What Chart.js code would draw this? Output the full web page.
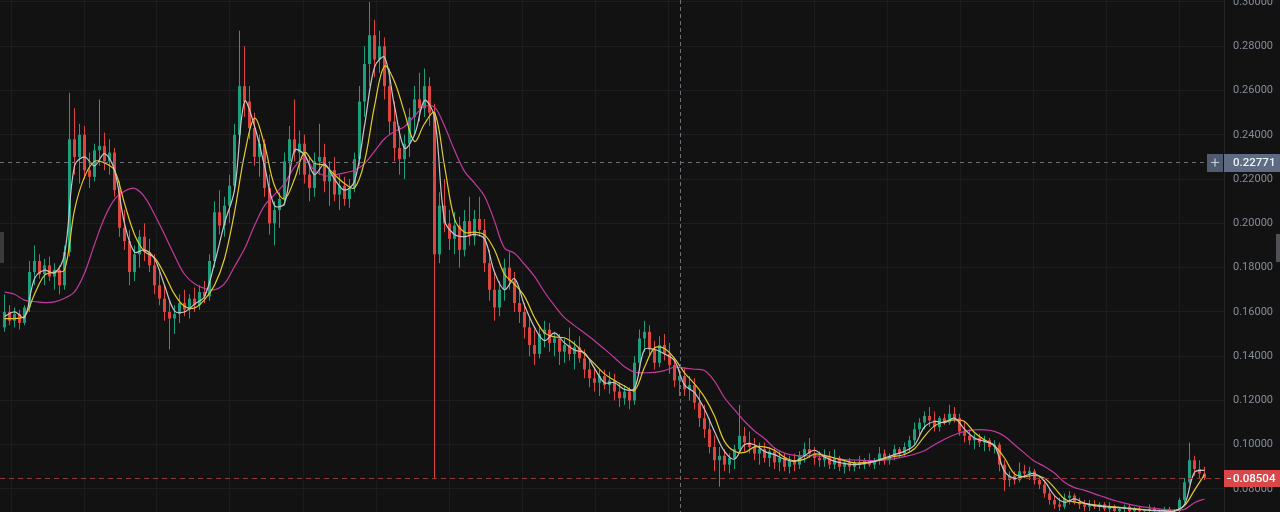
<!DOCTYPE html>
<html><head><meta charset="utf-8">
<script src="https://cdn.jsdelivr.net/npm/chart.js@4.4.0/dist/chart.umd.min.js"></script>
<style>html,body{margin:0;padding:0;background:#121212;overflow:hidden}canvas{display:block}</style>
</head><body>
<canvas id="c" width="1280" height="512"></canvas>
<script>
// ---- candle data (one entry per period) ----
const opens=[
0.153,0.160,0.156,0.159,0.155,0.162,0.178,0.183,0.177,0.181,0.176,0.179,0.172,
0.187,0.238,0.230,0.240,0.224,0.221,0.233,0.235,0.228,0.232,
0.215,0.198,0.192,0.178,0.186,0.194,0.187,0.181,0.172,0.166,0.160,0.157,
0.159,0.164,0.161,0.166,0.163,0.169,0.167,0.183,0.205,0.199,0.208,0.217,0.240,0.262,
0.255,0.243,0.230,0.236,0.216,0.200,0.206,0.211,0.228,0.238,0.232,0.236,0.222,0.216,0.228,0.230,0.219,0.224,0.213,0.217,0.211,
0.216,0.229,0.255,0.272,0.285,0.274,0.280,0.262,0.246,0.234,0.229,0.236,0.248,0.256,0.252,0.262,0.250,
0.186,0.208,0.200,0.193,0.199,0.188,0.201,0.194,0.202,0.197,0.182,0.170,0.162,0.170,0.180,0.174,0.164,0.160,0.153,0.145,0.141,0.150,0.152,0.146,0.148,0.142,0.145,0.141,0.144,0.139,0.134,0.130,0.128,0.131,0.127,0.129,0.124,0.121,0.124,
0.120,0.137,0.148,0.151,0.143,0.137,0.145,0.141,0.136,0.129,0.131,0.125,0.127,0.119,0.112,0.107,0.099,0.093,0.095,0.091,0.094,0.098,0.104,0.101,0.099,0.096,0.098,0.094,0.097,0.092,0.094,0.090,0.093,0.091,0.095,0.098,0.096,0.094,0.093,
0.095,0.091,0.094,0.090,0.092,0.090,0.092,0.091,0.093,0.091,0.093,0.096,0.093,0.095,0.098,0.096,0.099,0.102,0.107,0.110,0.113,0.111,0.108,0.112,0.110,0.114,0.112,0.106,0.104,0.102,0.103,0.101,0.102,0.099,0.100,0.091,
0.084,0.086,0.084,0.088,0.087,0.088,0.084,0.082,0.078,0.075,0.073,0.072,0.076,0.077,0.074,0.073,0.072,0.073,0.072,0.073,0.071,0.072,0.070,0.071,0.072,0.070,0.071,0.070,0.070,0.071,0.070,0.070,0.071,0.070,0.070,0.075,0.083,0.093,0.089,0.087
];
const closes=[
0.160,0.156,0.159,0.155,0.162,0.178,0.183,0.177,0.181,0.176,0.179,0.172,0.187,
0.238,0.230,0.240,0.224,0.221,0.233,0.235,0.228,0.232,0.215,
0.198,0.192,0.178,0.186,0.194,0.187,0.181,0.172,0.166,0.160,0.157,0.159,
0.164,0.161,0.166,0.163,0.169,0.167,0.183,0.205,0.199,0.208,0.217,0.240,0.262,0.255,
0.243,0.230,0.236,0.216,0.200,0.206,0.211,0.228,0.238,0.232,0.236,0.222,0.216,0.228,0.230,0.219,0.224,0.213,0.217,0.211,0.216,
0.229,0.255,0.272,0.285,0.274,0.280,0.262,0.246,0.234,0.229,0.236,0.248,0.256,0.252,0.262,0.250,0.186,
0.208,0.200,0.193,0.199,0.188,0.201,0.194,0.202,0.197,0.182,0.170,0.162,0.170,0.180,0.174,0.164,0.160,0.153,0.145,0.141,0.150,0.152,0.146,0.148,0.142,0.145,0.141,0.144,0.139,0.134,0.130,0.128,0.131,0.127,0.129,0.124,0.121,0.124,0.120,
0.137,0.148,0.151,0.143,0.137,0.145,0.141,0.136,0.129,0.131,0.125,0.127,0.119,0.112,0.107,0.099,0.093,0.095,0.091,0.094,0.098,0.104,0.101,0.099,0.096,0.098,0.094,0.097,0.092,0.094,0.090,0.093,0.091,0.095,0.098,0.096,0.094,0.093,0.095,
0.091,0.094,0.090,0.092,0.090,0.092,0.091,0.093,0.091,0.093,0.096,0.093,0.095,0.098,0.096,0.099,0.102,0.107,0.110,0.113,0.111,0.108,0.112,0.110,0.114,0.112,0.106,0.104,0.102,0.103,0.101,0.102,0.099,0.100,0.091,0.084,
0.086,0.084,0.088,0.087,0.088,0.084,0.082,0.078,0.075,0.073,0.072,0.076,0.077,0.074,0.073,0.072,0.073,0.072,0.073,0.071,0.072,0.070,0.071,0.072,0.070,0.071,0.070,0.070,0.071,0.070,0.070,0.071,0.070,0.070,0.075,0.083,0.093,0.089,0.087,0.08504
];
const highs=[
0.168,0.163,0.162,0.161,0.163,0.183,0.190,0.186,0.184,0.185,0.182,0.181,0.190,
0.259,0.252,0.245,0.244,0.232,0.236,0.256,0.241,0.238,0.234,
0.219,0.206,0.197,0.190,0.197,0.200,0.193,0.186,0.178,0.172,0.165,0.163,
0.168,0.170,0.168,0.171,0.172,0.174,0.186,0.210,0.215,0.212,0.222,0.245,0.287,0.280,
0.262,0.250,0.240,0.238,0.222,0.210,0.214,0.232,0.244,0.256,0.242,0.240,0.230,0.232,0.245,0.236,0.228,0.230,0.222,0.221,0.220,
0.232,0.262,0.280,0.300,0.292,0.287,0.284,0.270,0.255,0.244,0.240,0.252,0.262,0.268,0.270,0.266,0.254,
0.214,0.220,0.206,0.205,0.203,0.206,0.212,0.206,0.212,0.202,0.188,0.178,0.174,0.184,0.187,0.178,0.170,0.164,0.158,0.152,0.154,0.156,0.155,0.151,0.150,0.148,0.153,0.147,0.149,0.143,0.138,0.135,0.134,0.134,0.133,0.132,0.128,0.127,0.126,
0.140,0.152,0.156,0.154,0.147,0.149,0.150,0.146,0.139,0.134,0.135,0.131,0.130,0.124,0.118,0.112,0.104,0.099,0.098,0.096,0.100,0.118,0.108,0.106,0.103,0.101,0.101,0.099,0.099,0.097,0.096,0.095,0.096,0.097,0.101,0.103,0.099,0.097,0.098,
0.097,0.098,0.095,0.093,0.094,0.093,0.095,0.094,0.096,0.094,0.099,0.098,0.096,0.100,0.099,0.101,0.104,0.110,0.112,0.115,0.117,0.115,0.113,0.114,0.118,0.117,0.114,0.110,0.107,0.105,0.105,0.104,0.103,0.102,0.101,0.093,
0.088,0.088,0.092,0.091,0.090,0.089,0.086,0.084,0.080,0.077,0.076,0.078,0.079,0.078,0.076,0.075,0.075,0.075,0.074,0.074,0.074,0.073,0.072,0.073,0.073,0.072,0.072,0.071,0.073,0.072,0.071,0.072,0.072,0.071,0.076,0.085,0.101,0.095,0.093,0.090
];
const lows=[
0.151,0.154,0.153,0.152,0.154,0.160,0.172,0.175,0.172,0.174,0.170,0.168,0.170,
0.185,0.222,0.218,0.220,0.216,0.219,0.226,0.224,0.222,0.212,
0.194,0.188,0.172,0.174,0.180,0.183,0.178,0.168,0.163,0.156,0.143,0.150,
0.155,0.158,0.157,0.160,0.161,0.164,0.165,0.180,0.195,0.194,0.200,0.214,0.236,0.248,
0.238,0.226,0.221,0.212,0.195,0.190,0.198,0.208,0.222,0.228,0.222,0.218,0.210,0.212,0.222,0.214,0.208,0.210,0.206,0.208,0.207,
0.214,0.226,0.248,0.262,0.266,0.268,0.256,0.240,0.228,0.222,0.220,0.230,0.240,0.246,0.248,0.244,0.085,
0.182,0.196,0.188,0.186,0.180,0.185,0.190,0.190,0.194,0.178,0.165,0.156,0.158,0.165,0.170,0.160,0.155,0.148,0.140,0.136,0.139,0.144,0.142,0.140,0.136,0.137,0.138,0.134,0.137,0.130,0.126,0.124,0.122,0.125,0.123,0.120,0.117,0.118,0.116,
0.118,0.134,0.142,0.140,0.134,0.135,0.138,0.132,0.126,0.122,0.122,0.120,0.116,0.108,0.103,0.096,0.088,0.081,0.088,0.087,0.089,0.096,0.097,0.096,0.093,0.091,0.092,0.090,0.089,0.088,0.088,0.087,0.088,0.089,0.092,0.094,0.091,0.090,0.090,
0.089,0.089,0.088,0.087,0.088,0.088,0.089,0.089,0.090,0.089,0.091,0.091,0.091,0.093,0.094,0.095,0.097,0.100,0.104,0.107,0.108,0.106,0.106,0.109,0.109,0.110,0.104,0.101,0.100,0.098,0.099,0.097,0.097,0.096,0.088,0.079,
0.081,0.082,0.083,0.085,0.084,0.082,0.080,0.076,0.073,0.071,0.070,0.071,0.073,0.073,0.071,0.070,0.070,0.071,0.070,0.070,0.069,0.069,0.069,0.069,0.069,0.069,0.069,0.069,0.069,0.069,0.069,0.069,0.069,0.069,0.069,0.074,0.082,0.086,0.085,0.084
];
// ---- moving averages, one value every maStep periods ----
const maStep=2;
const maFast=[
0.158,0.160,0.1575,0.175,0.1788,0.1776,0.186,0.226,0.230,0.226,
0.2315,0.224,0.200,0.187,0.188,0.184,0.172,0.1605,0.160,0.1635,
0.167,0.182,0.200,0.215,0.255,0.244,0.226,0.208,0.209,0.233,
0.231,0.222,0.2268,0.220,0.215,0.219,0.244,0.2705,0.275,0.253,
0.234,0.240,0.2555,0.248,0.2015,0.195,0.194,0.195,0.193,0.178,
0.170,0.175,0.163,0.153,0.147,0.1505,0.146,0.1428,0.1415,0.1345,
0.128,0.128,0.125,0.1255,0.143,0.143,0.141,0.138,0.127,0.1235,
0.116,0.106,0.097,0.0935,0.100,0.100,0.097,0.0955,0.0935,0.0925,
0.095,0.0975,0.0945,0.0925,0.0915,0.091,0.0915,0.0925,0.094,0.0955,
0.097,0.0998,0.108,0.1105,0.110,0.112,0.107,0.103,0.1015,0.0995,
0.088,0.0848,0.0858,0.087,0.0835,0.077,0.074,0.0755,0.0735,0.0725,
0.072,0.0717,0.0713,0.0709,0.0705,0.0703,0.0702,0.0701,0.073,0.0875,
0.0885];
const maMid=[
0.157,0.157,0.158,0.168,0.1765,0.178,0.179,0.206,0.221,0.228,
0.2273,0.224,0.209,0.195,0.1873,0.1845,0.177,0.168,0.1625,0.1618,
0.1655,0.172,0.184,0.205,0.231,0.2475,0.2355,0.217,0.211,0.220,
0.232,0.2272,0.2262,0.222,0.218,0.216,0.228,0.253,0.271,0.264,
0.250,0.237,0.245,0.250,0.226,0.202,0.196,0.196,0.1948,0.188,
0.177,0.1725,0.167,0.1575,0.1505,0.1487,0.1483,0.1455,0.141,0.1365,
0.132,0.129,0.1265,0.1245,0.135,0.1437,0.1435,0.139,0.1325,0.1275,
0.1215,0.113,0.1015,0.097,0.0965,0.099,0.099,0.0975,0.0943,0.0927,
0.0935,0.0958,0.0952,0.094,0.0928,0.0918,0.0919,0.0925,0.0937,0.0947,
0.0956,0.0982,0.1038,0.1085,0.1105,0.1112,0.1105,0.1055,0.1022,0.0995,
0.094,0.0868,0.0855,0.0862,0.0848,0.0805,0.0755,0.0741,0.0735,0.0728,
0.0723,0.0719,0.0715,0.0711,0.0707,0.0702,0.070,0.070,0.0725,0.0795,
0.0865];
const maSlow=[
0.169,0.168,0.1653,0.1647,0.1642,0.1645,0.1662,0.169,0.1775,0.1905,
0.2025,0.2108,0.2145,0.2158,0.212,0.204,0.195,0.1855,0.177,0.1727,
0.1706,0.170,0.1728,0.1805,0.1885,0.199,0.208,0.213,0.218,0.2255,
0.2295,0.2238,0.2215,0.2218,0.2228,0.224,0.227,0.2325,0.2382,0.2415,
0.2437,0.2485,0.2528,0.2525,0.244,0.233,0.2235,0.2182,0.2122,0.201,
0.1888,0.1865,0.1815,0.176,0.169,0.1628,0.1574,0.1538,0.1505,0.147,
0.1432,0.1393,0.1352,0.1328,0.1325,0.1327,0.1335,0.135,0.1346,0.1341,
0.1335,0.1287,0.1212,0.1158,0.1106,0.1062,0.1028,0.0985,0.0962,0.0952,
0.095,0.095,0.0948,0.094,0.0933,0.0931,0.0929,0.0928,0.093,0.0937,
0.0946,0.0957,0.0973,0.1,0.1025,0.1045,0.106,0.1067,0.1067,0.106,
0.1038,0.1,0.0962,0.0925,0.0902,0.0872,0.083,0.0806,0.0794,0.0778,
0.0763,0.0748,0.0736,0.0726,0.0718,0.0712,0.0707,0.0705,0.0708,0.0738,
0.0755];
// ---- axes ----
const yTicks=[0.08,0.10,0.12,0.14,0.16,0.18,0.20,0.22,0.24,0.26,0.28,0.30];
const timeGrid=[-6.0,8.6,23.2,37.8,52.4,67.0,81.6,96.2,110.8,125.4,140.0,154.6,169.2,183.8,198.4,213.0,227.6,242.2];
const yMin=0.0696, yMax=0.3009;
const xMin=-0.9, xMax=243.9;
const lastPrice=0.08504, crossPrice=0.22771, crossIndex=135.2;

const UP='#1f9e7e', DOWN='#dc4540';
const candleColors=closes.map((c,i)=>c>=opens[i]?UP:DOWN);
const bodies=closes.map((c,i)=>({x:i,y:[opens[i],c]}));
const wicks=closes.map((c,i)=>({x:i,y:[lows[i],highs[i]]}));
const maPts=a=>a.map((v,k)=>({x:k*maStep,y:v}));

const bg={id:'bg',beforeDraw(ch){const c=ch.ctx;c.save();c.fillStyle='#121212';c.fillRect(0,0,ch.width,ch.height);c.restore();}};

const overlay={id:'overlay',afterDraw(ch){
  const c=ch.ctx, a=ch.chartArea, ys=ch.scales.y, xs=ch.scales.x;
  const W=ch.width,H=ch.height;
  c.save();
  // vertical crosshair
  const cx=Math.round(xs.getPixelForValue(crossIndex))+0.5;
  c.strokeStyle='#6c7079';c.lineWidth=1;c.setLineDash([4,3]);
  c.beginPath();c.moveTo(cx,a.top);c.lineTo(cx,a.bottom);c.stroke();
  // horizontal crosshair
  const cy=Math.round(ys.getPixelForValue(crossPrice))+0.5;
  c.setLineDash([4,4]);
  c.beginPath();c.moveTo(a.left,cy);c.lineTo(a.right-17,cy);c.stroke();
  // last price line
  const ly=Math.round(ys.getPixelForValue(lastPrice))+0.5;
  c.strokeStyle='#8e3a38';c.setLineDash([5,4]);
  c.beginPath();c.moveTo(a.left,ly);c.lineTo(a.right,ly);c.stroke();
  c.setLineDash([]);
  // crosshair label
  c.fillStyle='#4f5c6f';c.fillRect(a.right-17,cy-8.5,16,18);
  c.fillStyle='#5d6c82';c.fillRect(a.right,cy-8.5,W-a.right,18);
  c.strokeStyle='#c9ced6';c.lineWidth=1.2;
  const px=a.right-9;c.beginPath();c.moveTo(px-4,cy);c.lineTo(px+4,cy);c.moveTo(px,cy-4);c.lineTo(px,cy+4);c.stroke();
  c.font='500 11.5px Roboto, "Noto Sans", sans-serif';c.textBaseline='middle';c.textAlign='left';
  c.fillStyle='#eef1f5';c.fillText(crossPrice.toFixed(5),a.right+9,cy+1);
  // last price label
  c.fillStyle='#d9474a';c.fillRect(a.right,ly-8.5,W-a.right,17);
  c.strokeStyle='#ffffff';c.lineWidth=1;c.beginPath();c.moveTo(a.right+3,ly);c.lineTo(a.right+7,ly);c.stroke();
  c.fillStyle='#ffffff';c.fillText(lastPrice.toFixed(5),a.right+9,ly+1);
  // side handles
  c.fillStyle='#3b3b3d';c.fillRect(0,Math.round(H*0.453),4,31);
  c.fillStyle='#505154';c.fillRect(W-4,Math.round(H*0.457),4,28);
  c.restore();
}};

new Chart(document.getElementById('c'),{
  data:{datasets:[
    {type:'line',data:maPts(maFast),borderColor:'#c6c6c6',borderWidth:1.2,pointRadius:0,tension:0.35,order:0},
    {type:'line',data:maPts(maMid),borderColor:'#e3cc2a',borderWidth:1.2,pointRadius:0,tension:0.35,order:0},
    {type:'line',data:maPts(maSlow),borderColor:'#c4399f',borderWidth:1.2,pointRadius:0,tension:0.35,order:0},
    {type:'bar',data:bodies,backgroundColor:candleColors,barThickness:3,grouped:false,inflateAmount:0,borderWidth:0,minBarLength:1,order:1},
    {type:'bar',data:wicks,backgroundColor:candleColors,barThickness:1,grouped:false,inflateAmount:0,borderWidth:0,order:2}
  ]},
  options:{
    responsive:false,animation:false,devicePixelRatio:1,
    layout:{padding:0},
    plugins:{legend:{display:false},tooltip:{enabled:false}},
    events:[],
    scales:{
      x:{type:'linear',min:xMin,max:xMax,offset:false,
        afterBuildTicks:s=>{s.ticks=timeGrid.map(v=>({value:v}));},
        afterFit:s=>{s.height=0;s.paddingLeft=0;s.paddingRight=0;},
        ticks:{display:false},border:{display:false},
        grid:{color:'#1c1c1e',drawTicks:false,lineWidth:1}},
      y:{position:'right',min:yMin,max:yMax,
        afterBuildTicks:s=>{s.ticks=yTicks.map(v=>({value:v}));},
        afterFit:s=>{s.width=56;s.paddingTop=0;s.paddingBottom=0;},
        ticks:{padding:9,color:'#858c98',font:{family:'Roboto, "Noto Sans", sans-serif',size:11},callback:v=>v.toFixed(5),autoSkip:false},
        border:{display:true,color:'#262628'},
        grid:{color:'#1e1e20',drawTicks:false}}
    }
  },
  plugins:[bg,overlay]
});
</script>
</body></html>
